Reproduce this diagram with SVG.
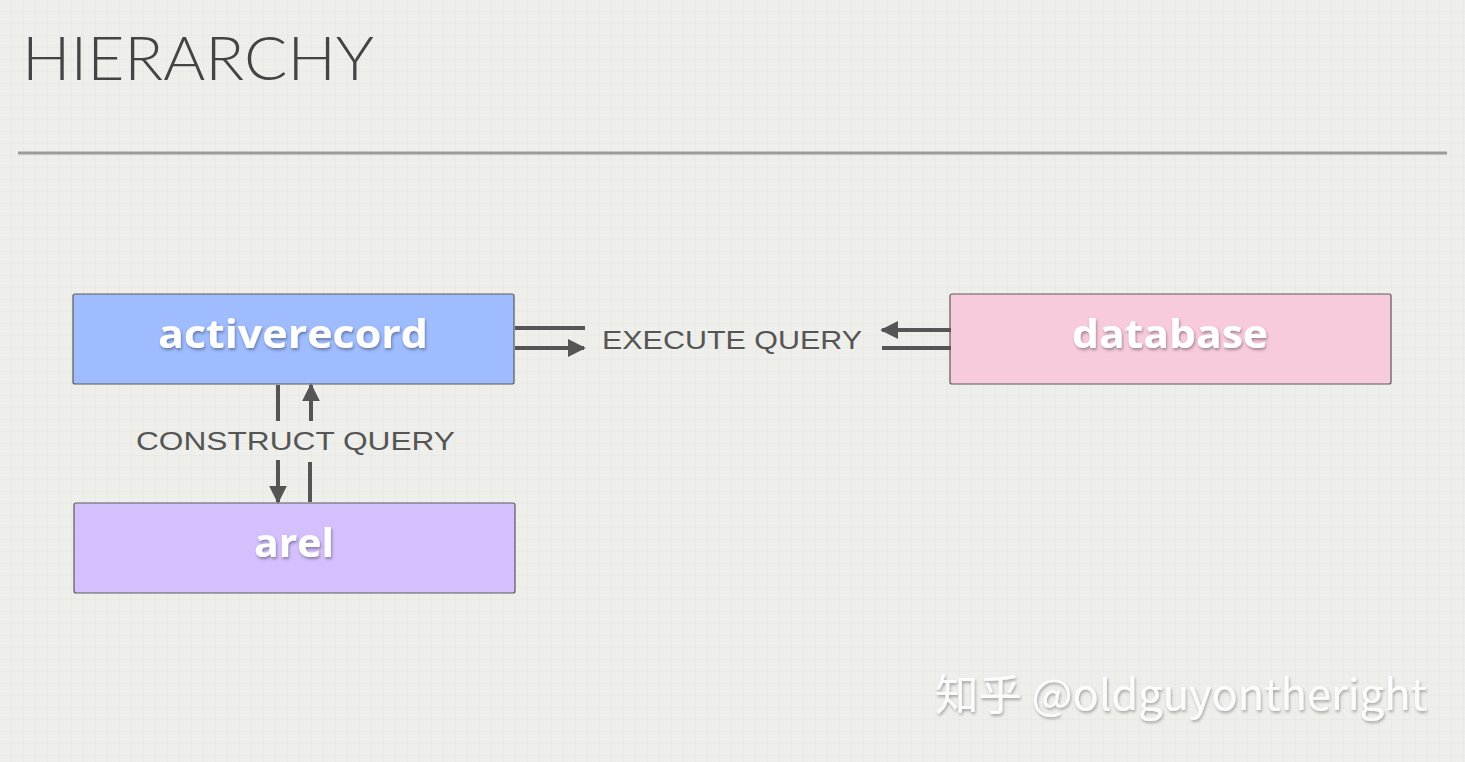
<svg xmlns="http://www.w3.org/2000/svg" width="1465" height="762" viewBox="0 0 1465 762">
<defs>
<pattern id="grid" width="12" height="12" patternUnits="userSpaceOnUse"><rect width="12" height="12" fill="#eeeeea"/><path d="M12 0V12M0 12H12" stroke="#e4e4e0" stroke-width="1"/></pattern>
<marker id="ah" viewBox="0 0 10 10" refX="9" refY="5" markerWidth="4.5" markerHeight="4.5" orient="auto"><path d="M0 0L10 5L0 10z" fill="#555"/></marker>
<filter id="sh"><feDropShadow dx="1" dy="2" stdDeviation="1.5" flood-color="#000" flood-opacity="0.35"/></filter>
</defs>
<style>
.box{stroke:#5a5a5a;stroke-width:1.2}
.lbl{font-family:"Open Sans","DejaVu Sans",sans-serif;font-weight:bold;font-size:40px;fill:#fff;text-anchor:middle}
.ln{stroke:#555;stroke-width:4;fill:none}
.hand{font-family:"Liberation Sans",sans-serif;font-size:26px;fill:#555}
</style>
<rect width="1465" height="762" fill="url(#grid)"/>
<text x="22" y="80" font-family="Lato,'Open Sans',sans-serif" font-weight="300" font-size="62" fill="#444" textLength="352" lengthAdjust="spacingAndGlyphs">HIERARCHY</text>
<line x1="18" y1="153" x2="1447" y2="153" stroke="#9a9a98" stroke-width="3"/>
<g id="activerecord"><rect class="box" x="73" y="294" width="441" height="90" rx="2" fill="#9ebcfe"/><text class="lbl" x="293" y="348" filter="url(#sh)" textLength="270" lengthAdjust="spacingAndGlyphs">activerecord</text></g>
<g id="database"><rect class="box" x="950" y="294" width="441" height="90" rx="2" fill="#f8cbdc"/><text class="lbl" x="1170" y="348" filter="url(#sh)" textLength="196" lengthAdjust="spacingAndGlyphs">database</text></g>
<g id="arel"><rect class="box" x="74" y="503" width="441" height="90" rx="2" fill="#d3c0fc"/><text class="lbl" x="294" y="557" filter="url(#sh)" textLength="80" lengthAdjust="spacingAndGlyphs">arel</text></g>
<g id="connectors">
<line class="ln" x1="515" y1="328" x2="585" y2="328"/>
<line class="ln" x1="515" y1="348" x2="584" y2="348" marker-end="url(#ah)"/>
<line class="ln" x1="951" y1="330" x2="882" y2="330" marker-end="url(#ah)"/>
<line class="ln" x1="882" y1="348" x2="951" y2="348"/>
<text class="hand" x="602" y="349" textLength="260" lengthAdjust="spacingAndGlyphs">EXECUTE QUERY</text>
<line class="ln" x1="278" y1="385" x2="278" y2="421"/>
<line class="ln" x1="311" y1="421" x2="311" y2="385" marker-end="url(#ah)"/>
<line class="ln" x1="278" y1="460" x2="278" y2="502" marker-end="url(#ah)"/>
<line class="ln" x1="310" y1="462" x2="310" y2="502"/>
<text class="hand" x="136" y="450" textLength="319" lengthAdjust="spacingAndGlyphs">CONSTRUCT QUERY</text>
</g>
<text x="935" y="710" font-family="'Noto Sans CJK SC','Noto Sans',sans-serif" font-size="42" fill="#fff" fill-opacity="0.9" filter="url(#sh)" textLength="492" lengthAdjust="spacingAndGlyphs">知乎 @oldguyontheright</text>
</svg>
